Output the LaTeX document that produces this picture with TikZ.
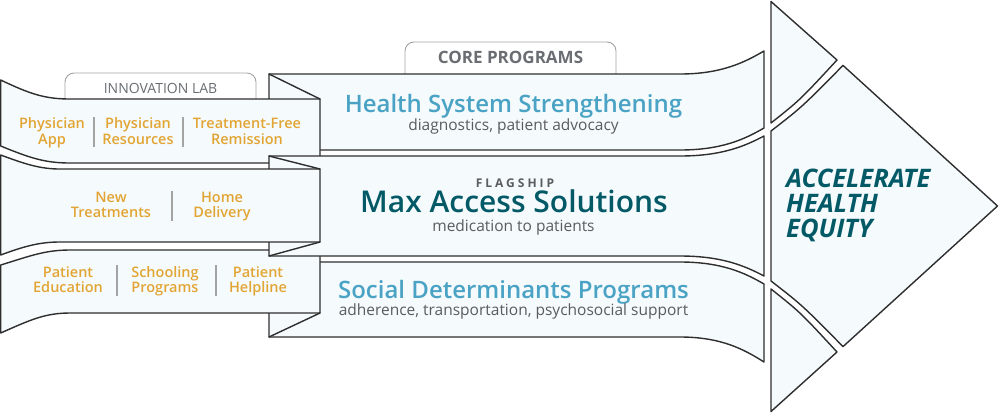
\documentclass[tikz,border=0pt]{standalone}
\usepackage{fontspec}
\setmainfont{Open Sans}
\IfFontExistsTF{Open Sans Semibold}{\newfontfamily\semib{Open Sans Semibold}}{%
  \IfFontExistsTF{Open Sans SemiBold}{\newfontfamily\semib{Open Sans SemiBold}}{\newcommand\semib{\bfseries}}}
\IfFontExistsTF{Open Sans ExtraBold Italic}{\newfontfamily\xbold{Open Sans ExtraBold Italic}}{%
  \newcommand\xbold{\bfseries\itshape}}
\usetikzlibrary{positioning}

\definecolor{bandfill}{HTML}{F5FAFD}
\definecolor{bandline}{HTML}{2E2E2E}
\definecolor{laborange}{HTML}{E2A534}
\definecolor{lightteal}{HTML}{4AA3C4}
\definecolor{darkteal}{HTML}{035A66}
\definecolor{subgray}{HTML}{5A5C5E}
\definecolor{tabgray}{HTML}{A3A3A3}
\definecolor{tabtext}{HTML}{6A6E72}

\tikzset{
  band/.style={draw=bandline, fill=bandfill, line width=1.4pt, line join=round},
  crease/.style={draw=bandline, line width=1.4pt, line cap=round},
  tabbox/.style={draw=tabgray, fill=white, line width=0.9pt, rounded corners=9pt},
  sep/.style={draw=tabgray, line width=1.2pt},
  lab/.style={text=laborange, font=\semib\fontsize{14.5}{16}\selectfont, inner sep=0pt, anchor=base},
  title/.style={text=lightteal, font=\semib\fontsize{24}{28}\selectfont, inner sep=0pt, anchor=base},
  sub/.style={text=subgray, font=\fontsize{15.5}{17}\selectfont, inner sep=0pt, anchor=base},
}

\begin{document}
\begin{tikzpicture}[x=1pt, y=-1pt]
  \useasboundingbox (0,0) rectangle (1000,413);

  % tabs behind the bands
  \draw[tabbox] (65,110) -- (65,73) -- (256,73) -- (256,110);
  \draw[tabbox] (405,90) -- (405,42) -- (616,42) -- (616,90);

  % core programs, back rows
  \draw[band] (269,74) -- (680,74) .. controls (722,74) and (745,62) .. (764,51)
    -- (764,128) .. controls (745,139) and (722,150) .. (680,150) -- (269,150) -- cycle;
  \draw[band] (269,262) -- (680,262) .. controls (722,262) and (745,273) .. (764,284)
    -- (764,362) .. controls (745,350) and (722,337) .. (680,337) -- (269,337) -- cycle;

  % innovation lab, outer rows
  \draw[band] (0.7,80) .. controls (30,94) and (45,99) .. (70,99) -- (320,99)
    -- (320,163) -- (70,163) .. controls (45,163) and (30,158) .. (0.7,146) -- cycle;
  \draw[band] (0.7,265) .. controls (30,256) and (45,250) .. (70,250) -- (320,250)
    -- (320,313) -- (70,313) .. controls (45,313) and (30,320) .. (0.7,333) -- cycle;

  % flagship row
  \draw[band] (269,156) -- (680,156) .. controls (722,156) and (745,146) .. (764,136)
    -- (764,276) .. controls (745,266) and (722,256) .. (680,256) -- (269,256) -- cycle;
  \draw[band] (0.7,155) .. controls (25,164) and (40,169) .. (60,169) -- (320,169)
    -- (320,242) -- (60,242) .. controls (40,242) and (25,246) .. (0.7,255) -- cycle;

  % folds
  \coordinate (coretop-nw) at (269,74);   \coordinate (labtop-ne) at (320,99);
  \coordinate (coremid-nw) at (269,156);  \coordinate (labmid-ne) at (320,169);
  \coordinate (coremid-sw) at (269,256);  \coordinate (labmid-se) at (320,242);
  \coordinate (corebot-sw) at (269,337);  \coordinate (labbot-se) at (320,313);
  \draw[crease] (coretop-nw) -- (labtop-ne);
  \draw[crease] (coremid-nw) -- (labmid-ne);
  \draw[crease] (coremid-sw) -- (labmid-se);
  \draw[crease] (corebot-sw) -- (labbot-se);

  % arrow head
  \draw[band] (771,1.5) -- (837,60) .. controls (800,100) .. (771,123) -- cycle;
  \draw[band] (843,65.4) -- (997.5,206) -- (843,346.6) .. controls (802,305) .. (771,281)
    -- (771,131) .. controls (802,107) .. (843,65.4) -- cycle;
  \draw[band] (771,289) .. controls (800,312) .. (837,352) -- (771,411.5) -- cycle;

  % tab labels
  \node[text=tabtext, font=\fontsize{14}{16}\selectfont, inner sep=0pt, anchor=base]
    (innovlab) at (160.5,93.3) {INNOVATION LAB};
  \node[text=tabtext, font=\fontsize{17}{20}\bfseries, inner sep=0pt, anchor=base]
    (coreprog) at (510.5,63.3) {CORE PROGRAMS};

  % innovation lab labels
  \foreach \a/\b/\x in {Physician/App/52, Physician/Resources/138, Treatment-Free/Remission/247}{
    \node[lab] (top-\x-a) at (\x,128) {\a};
    \node[lab] (top-\x-b) at (\x,144) {\b};
  }
  \foreach \a/\b/\x in {New/Treatments/111, Home/Delivery/222}{
    \node[lab] (mid-\x-a) at (\x,202) {\a};
    \node[lab] (mid-\x-b) at (\x,217.5) {\b};
  }
  \foreach \a/\b/\x in {Patient/Education/68, Schooling/Programs/165, Patient/Helpline/258}{
    \node[lab] (bot-\x-a) at (\x,277) {\a};
    \node[lab] (bot-\x-b) at (\x,292.5) {\b};
  }
  \foreach \x in {94,183} \draw[sep] (\x,117) -- (\x,147);
  \foreach \x in {172} \draw[sep] (\x,191) -- (\x,221);
  \foreach \x in {117,216} \draw[sep] (\x,265) -- (\x,296);

  % core programs labels
  \node[title] (hss) at (513.5,112.5) {Health System Strengthening};
  \node[sub] (hss-sub) at (513.5,130) {diagnostics, patient advocacy};
  \node[text=subgray, font=\fontsize{12}{14}\bfseries\addfontfeatures{LetterSpace=25},
    inner sep=0pt, anchor=base] (flagship) at (515,187.7) {FLAGSHIP};
  \node[text=darkteal, font=\semib\fontsize{30}{34}\selectfont, inner sep=0pt, anchor=base]
    (mas) at (514,212.7) {Max Access Solutions};
  \node[sub] (mas-sub) at (513.5,231) {medication to patients};
  \node[title] (sdp) at (513.5,298) {Social Determinants Programs};
  \node[sub] (sdp-sub) at (513.5,315) {adherence, transportation, psychosocial support};

  % goal
  \foreach \w[count=\i] in {ACCELERATE, HEALTH, EQUITY}
    \node[text=darkteal, font=\xbold\fontsize{25.5}{27}\selectfont, inner sep=0pt, anchor=base west]
      (goal-\i) at (786,162+25*\i) {\w};

\end{tikzpicture}
\end{document}
